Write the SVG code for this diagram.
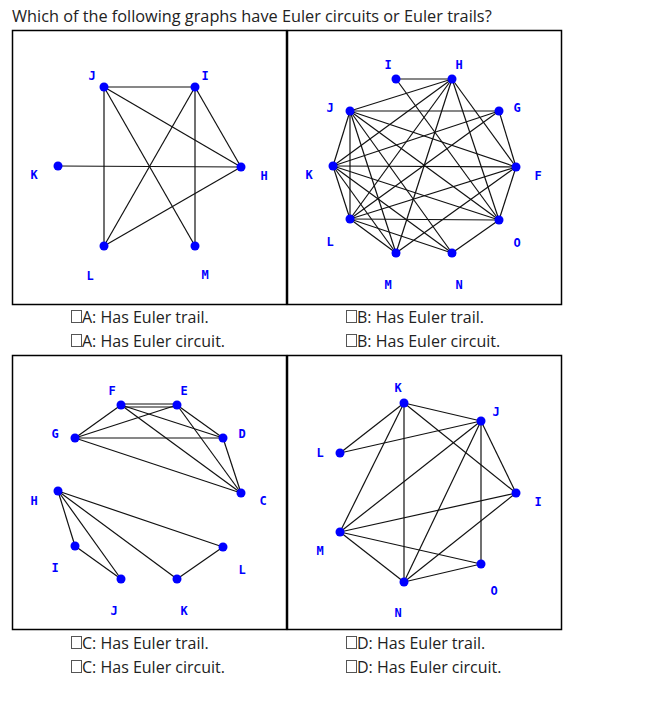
<svg xmlns="http://www.w3.org/2000/svg" width="668" height="705" viewBox="0 0 668 705">
<style>
.bg{fill:#fff}
.panel{fill:#fff;stroke:#000;stroke-width:1.5}
.e line{stroke:#111;stroke-width:1.2}
.n{fill:#0000ff}
.lb{font-family:"DejaVu Sans Mono",monospace;font-weight:bold;font-size:12px;fill:#0000ff;text-anchor:middle}
.q{font-family:"Open Sans","Liberation Sans",sans-serif;font-size:16.3px;fill:#222}
.t{font-family:"Open Sans","Liberation Sans",sans-serif;font-size:16px;fill:#222}
.cb{fill:#fff;stroke:#555;stroke-width:1}
</style>
<rect class="bg" width="668" height="705"/>
<text class="q" x="12" y="22">Which of the following graphs have Euler circuits or Euler trails?</text>
<rect class="panel" x="12.5" y="30.5" width="274" height="274"/>
<rect class="panel" x="287.5" y="30.5" width="274" height="274"/>
<rect class="panel" x="12.5" y="355.5" width="274" height="274"/>
<rect class="panel" x="287.5" y="355.5" width="274" height="274"/>

<g id="connectors" class="e">
<line x1="104" y1="87" x2="195" y2="87"/><line x1="104" y1="87" x2="104" y2="246"/><line x1="104" y1="87" x2="241" y2="167"/><line x1="104" y1="87" x2="195" y2="246"/>
<line x1="195" y1="87" x2="104" y2="246"/><line x1="195" y1="87" x2="195" y2="246"/><line x1="195" y1="87" x2="241" y2="167"/>
<line x1="58" y1="166" x2="241" y2="167"/><line x1="104" y1="246" x2="241" y2="167"/>
<line x1="396" y1="79" x2="452" y2="79"/><line x1="396" y1="79" x2="499" y2="220"/>
<line x1="452" y1="79" x2="350" y2="111"/><line x1="452" y1="79" x2="333" y2="166"/><line x1="452" y1="79" x2="350" y2="219"/><line x1="452" y1="79" x2="396" y2="253"/><line x1="452" y1="79" x2="499" y2="220"/><line x1="452" y1="79" x2="516" y2="167"/>
<line x1="350" y1="111" x2="499" y2="111"/><line x1="350" y1="111" x2="333" y2="166"/><line x1="350" y1="111" x2="350" y2="219"/><line x1="350" y1="111" x2="516" y2="167"/><line x1="350" y1="111" x2="499" y2="220"/><line x1="350" y1="111" x2="396" y2="253"/><line x1="350" y1="111" x2="452" y2="253"/>
<line x1="499" y1="111" x2="333" y2="166"/><line x1="499" y1="111" x2="350" y2="219"/><line x1="499" y1="111" x2="516" y2="167"/>
<line x1="333" y1="166" x2="516" y2="167"/><line x1="333" y1="166" x2="350" y2="219"/><line x1="333" y1="166" x2="499" y2="220"/><line x1="333" y1="166" x2="452" y2="253"/><line x1="333" y1="166" x2="396" y2="253"/>
<line x1="350" y1="219" x2="516" y2="167"/><line x1="350" y1="219" x2="499" y2="220"/><line x1="350" y1="219" x2="396" y2="253"/><line x1="350" y1="219" x2="452" y2="253"/>
<line x1="516" y1="167" x2="499" y2="220"/><line x1="516" y1="167" x2="396" y2="253"/>
<line x1="499" y1="220" x2="452" y2="253"/>
<line x1="121" y1="404" x2="177" y2="404"/><line x1="121" y1="407" x2="177" y2="407"/><line x1="121" y1="405" x2="75" y2="438"/><line x1="121" y1="405" x2="223" y2="438"/><line x1="121" y1="405" x2="241" y2="493"/>
<line x1="177" y1="405" x2="75" y2="438"/><line x1="177" y1="405" x2="223" y2="438"/><line x1="177" y1="405" x2="241" y2="493"/>
<line x1="75" y1="438" x2="223" y2="438"/><line x1="75" y1="438" x2="241" y2="493"/><line x1="223" y1="438" x2="241" y2="493"/>
<line x1="58" y1="491" x2="75" y2="546"/><line x1="58" y1="491" x2="121" y2="579"/><line x1="58" y1="491" x2="177" y2="579"/><line x1="58" y1="491" x2="223" y2="547"/>
<line x1="75" y1="546" x2="121" y2="579"/><line x1="177" y1="579" x2="223" y2="547"/>
<line x1="404" y1="403" x2="481" y2="421"/><line x1="404" y1="403" x2="340" y2="453"/><line x1="404" y1="403" x2="340" y2="532"/><line x1="404" y1="403" x2="404" y2="582"/><line x1="404" y1="403" x2="516" y2="493"/>
<line x1="481" y1="421" x2="340" y2="453"/><line x1="481" y1="421" x2="340" y2="532"/><line x1="481" y1="421" x2="404" y2="582"/><line x1="481" y1="421" x2="516" y2="493"/><line x1="481" y1="421" x2="481" y2="564"/>
<line x1="516" y1="493" x2="340" y2="532"/><line x1="516" y1="493" x2="404" y2="582"/>
<line x1="340" y1="532" x2="481" y2="564"/><line x1="340" y1="532" x2="404" y2="582"/><line x1="404" y1="582" x2="481" y2="564"/>
</g>

<g id="graphA">
<g id="A-J"><circle class="n" cx="104" cy="87" r="4.5"/><text class="lb" x="92" y="80">J</text></g>
<g id="A-I"><circle class="n" cx="195" cy="87" r="4.5"/><text class="lb" x="205" y="80">I</text></g>
<g id="A-K"><circle class="n" cx="58" cy="166" r="4.5"/><text class="lb" x="34" y="179">K</text></g>
<g id="A-H"><circle class="n" cx="241" cy="167" r="4.5"/><text class="lb" x="264" y="180">H</text></g>
<g id="A-L"><circle class="n" cx="104" cy="246" r="4.5"/><text class="lb" x="90" y="280">L</text></g>
<g id="A-M"><circle class="n" cx="195" cy="246" r="4.5"/><text class="lb" x="205" y="279">M</text></g>
</g>
<g id="graphB">
<g id="B-I"><circle class="n" cx="396" cy="79" r="4.5"/><text class="lb" x="388" y="69">I</text></g>
<g id="B-H"><circle class="n" cx="452" cy="79" r="4.5"/><text class="lb" x="459" y="69">H</text></g>
<g id="B-J"><circle class="n" cx="350" cy="111" r="4.5"/><text class="lb" x="330" y="112">J</text></g>
<g id="B-G"><circle class="n" cx="499" cy="111" r="4.5"/><text class="lb" x="517" y="112">G</text></g>
<g id="B-K"><circle class="n" cx="333" cy="166" r="4.5"/><text class="lb" x="309" y="179">K</text></g>
<g id="B-F"><circle class="n" cx="516" cy="167" r="4.5"/><text class="lb" x="538" y="180">F</text></g>
<g id="B-L"><circle class="n" cx="350" cy="219" r="4.5"/><text class="lb" x="330" y="246">L</text></g>
<g id="B-O"><circle class="n" cx="499" cy="220" r="4.5"/><text class="lb" x="517" y="247">O</text></g>
<g id="B-M"><circle class="n" cx="396" cy="253" r="4.5"/><text class="lb" x="388" y="289">M</text></g>
<g id="B-N"><circle class="n" cx="452" cy="253" r="4.5"/><text class="lb" x="459" y="289">N</text></g>
</g>
<g id="graphC">
<g id="C-F"><circle class="n" cx="121" cy="405" r="4.5"/><text class="lb" x="112" y="395">F</text></g>
<g id="C-E"><circle class="n" cx="177" cy="405" r="4.5"/><text class="lb" x="184" y="395">E</text></g>
<g id="C-G"><circle class="n" cx="75" cy="438" r="4.5"/><text class="lb" x="55" y="438">G</text></g>
<g id="C-D"><circle class="n" cx="223" cy="438" r="4.5"/><text class="lb" x="242" y="438">D</text></g>
<g id="C-C"><circle class="n" cx="241" cy="493" r="4.5"/><text class="lb" x="263" y="505">C</text></g>
<g id="C-H"><circle class="n" cx="58" cy="491" r="4.5"/><text class="lb" x="34" y="505">H</text></g>
<g id="C-I"><circle class="n" cx="75" cy="546" r="4.5"/><text class="lb" x="55" y="572">I</text></g>
<g id="C-L"><circle class="n" cx="223" cy="547" r="4.5"/><text class="lb" x="242" y="574">L</text></g>
<g id="C-J"><circle class="n" cx="121" cy="579" r="4.5"/><text class="lb" x="114" y="615">J</text></g>
<g id="C-K"><circle class="n" cx="177" cy="579" r="4.5"/><text class="lb" x="184" y="615">K</text></g>
</g>
<g id="graphD">
<g id="D-K"><circle class="n" cx="404" cy="403" r="4.5"/><text class="lb" x="398" y="392">K</text></g>
<g id="D-J"><circle class="n" cx="481" cy="421" r="4.5"/><text class="lb" x="496" y="416">J</text></g>
<g id="D-L"><circle class="n" cx="340" cy="453" r="4.5"/><text class="lb" x="320" y="457">L</text></g>
<g id="D-I"><circle class="n" cx="516" cy="493" r="4.5"/><text class="lb" x="538" y="506">I</text></g>
<g id="D-M"><circle class="n" cx="340" cy="532" r="4.5"/><text class="lb" x="320" y="555">M</text></g>
<g id="D-O"><circle class="n" cx="481" cy="564" r="4.5"/><text class="lb" x="494" y="595">O</text></g>
<g id="D-N"><circle class="n" cx="404" cy="582" r="4.5"/><text class="lb" x="398" y="617">N</text></g>
</g>

<g id="checks">
<rect class="cb" x="71.5" y="310.5" width="10" height="12"/><text class="t" x="82" y="323">A: Has Euler trail.</text>
<rect class="cb" x="71.5" y="334.5" width="10" height="12"/><text class="t" x="82" y="347">A: Has Euler circuit.</text>
<rect class="cb" x="346.5" y="310.5" width="10" height="12"/><text class="t" x="357" y="323">B: Has Euler trail.</text>
<rect class="cb" x="346.5" y="334.5" width="10" height="12"/><text class="t" x="357" y="347">B: Has Euler circuit.</text>
<rect class="cb" x="71.5" y="636.5" width="10" height="12"/><text class="t" x="82" y="649">C: Has Euler trail.</text>
<rect class="cb" x="71.5" y="660.5" width="10" height="12"/><text class="t" x="82" y="673">C: Has Euler circuit.</text>
<rect class="cb" x="346.5" y="636.5" width="10" height="12"/><text class="t" x="357" y="649">D: Has Euler trail.</text>
<rect class="cb" x="346.5" y="660.5" width="10" height="12"/><text class="t" x="357" y="673">D: Has Euler circuit.</text>
</g>
</svg>
